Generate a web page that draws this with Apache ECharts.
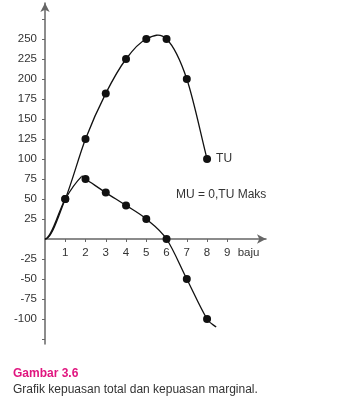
<!DOCTYPE html>
<html>
<head>
<meta charset="utf-8">
<script src="https://cdn.jsdelivr.net/npm/echarts@6/dist/echarts.min.js"></script>
<style>html,body{margin:0;padding:0;background:#fff;}#c{width:341px;height:400px;}</style>
</head>
<body>
<div id="c"></div>
<script>
// Data
const tuX = [0, 1, 2, 3, 4, 5, 6, 7, 8];
const tuY = [0, 50, 125, 182, 225, 250, 250, 200, 100];
const muX = [0, 1, 1.8, 2, 3, 4, 5, 6, 7, 8, 8.45];
const muY = [0, 50, 78, 75, 58, 42, 25, 0, -50, -100, -110];
const xTickLabels = [1, 2, 3, 4, 5, 6, 7, 8, 9];
const xAxisName = 'baju';
const yTickLabels = [-100, -75, -50, -25, 25, 50, 75, 100, 125, 150, 175, 200, 225, 250];
const yTickMarks = [-125, -100, -75, -50, -25, 25, 50, 75, 100, 125, 150, 175, 200, 225, 250, 275];
const tuLabel = 'TU';
const muNote = 'MU = 0,TU Maks';
const captionTitle = 'Gambar 3.6';
const captionText = 'Grafik kepuasan total dan kepuasan marginal.';

const FONT = 'Liberation Sans, Arial, sans-serif';
const isDot = x => Number.isInteger(x) && x > 0;
const Y_MIN = -131.25, Y_MAX = 295;
const INK = '#111';

// smooth curve through the data points (cubic Hermite), mapped with the chart's own coordinates
function curveSeries(xs, ys) {
  const data = xs.map((x, i) => [x, ys[i]]);
  const n = data.length;
  return {
    type: 'custom', data: data, silent: true, clip: false, z: 2,
    renderItem: function (params, api) {
      const i = params.dataIndex;
      if (i >= n - 1) return null;
      const P = k => api.coord(data[k]);
      const tan = k => {
        if (k === 0) {
          const a = P(0), b = P(1), d = xs[1] - xs[0];
          return [(b[0] - a[0]) / d, 0];
        }
        if (k === n - 1) {
          const a = P(n - 2), b = P(n - 1), d = xs[n - 1] - xs[n - 2];
          return [(b[0] - a[0]) / d, (b[1] - a[1]) / d];
        }
        const a = P(k - 1), b = P(k + 1), d = xs[k + 1] - xs[k - 1];
        return [(b[0] - a[0]) / d, (b[1] - a[1]) / d];
      };
      const dx = xs[i + 1] - xs[i];
      const p0 = P(i), p1 = P(i + 1), t0 = tan(i), t1 = tan(i + 1);
      return {
        type: 'bezierCurve',
        shape: {
          x1: p0[0], y1: p0[1], x2: p1[0], y2: p1[1],
          cpx1: p0[0] + t0[0] * dx / 3, cpy1: p0[1] + t0[1] * dx / 3,
          cpx2: p1[0] - t1[0] * dx / 3, cpy2: p1[1] - t1[1] * dx / 3
        },
        style: { stroke: INK, lineWidth: 1.3, fill: null }
      };
    }
  };
}

function dotSeries(xs, ys, lastLabel) {
  const data = [];
  xs.forEach((x, i) => { if (isDot(x)) data.push({ value: [x, ys[i]] }); });
  if (lastLabel) {
    data[data.length - 1].label = { show: true, formatter: lastLabel, position: 'right', distance: 5,
      color: '#333', fontSize: 12, fontFamily: FONT };
  }
  return { type: 'scatter', data: data, symbol: 'circle', symbolSize: 8,
    itemStyle: { color: INK, opacity: 1 }, z: 3, silent: true };
}

const chart = echarts.init(document.getElementById('c'), null, { renderer: 'canvas' });
const axisColor = '#666';
const gridTop = 3, gridBottom = 56;
const gridH = 400 - gridTop - gridBottom;
// move the x axis up to the y = 0 line
const xOffset = -gridH * (0 - Y_MIN) / (Y_MAX - Y_MIN);
chart.setOption({
  animation: false,
  backgroundColor: '#fff',
  grid: { left: 45, right: 75, top: gridTop, bottom: gridBottom, containLabel: false },
  xAxis: {
    type: 'value', min: 0, max: 10.91, position: 'bottom', offset: xOffset,
    axisLine: { onZero: false, lineStyle: { color: axisColor, width: 1.5 }, symbol: ['none', 'arrow'], symbolSize: [7, 9] },
    axisTick: { show: true, customValues: xTickLabels, length: 3, inside: false, lineStyle: { color: axisColor } },
    axisLabel: { customValues: xTickLabels.concat([10.05]), margin: 8, color: '#333', fontSize: 11.5, fontFamily: FONT,
      formatter: v => (v > 9.5 ? xAxisName : String(v)) },
    splitLine: { show: false }
  },
  yAxis: {
    type: 'value', min: Y_MIN, max: Y_MAX,
    axisLine: { onZero: false, lineStyle: { color: axisColor, width: 1.5 }, symbol: ['none', 'arrow'], symbolSize: [7, 9] },
    axisTick: { show: true, customValues: yTickMarks, length: 3, lineStyle: { color: axisColor } },
    axisLabel: { customValues: yTickLabels, margin: 8, color: '#333', fontSize: 11.5, fontFamily: FONT },
    splitLine: { show: false }
  },
  series: [
    curveSeries(tuX, tuY),
    curveSeries(muX, muY),
    dotSeries(tuX, tuY, tuLabel),
    dotSeries(muX, muY, null)
  ],
  graphic: [
    { type: 'text', left: 176, top: 189, style: { text: muNote, fill: '#333', font: '12px ' + FONT } },
    { type: 'text', left: 13, top: 368, style: { text: captionTitle, fill: '#e0157f', font: 'bold 12px ' + FONT } },
    { type: 'text', left: 13, top: 384, style: { text: captionText, fill: '#333', font: '12px ' + FONT } }
  ]
});
</script>
</body>
</html>
